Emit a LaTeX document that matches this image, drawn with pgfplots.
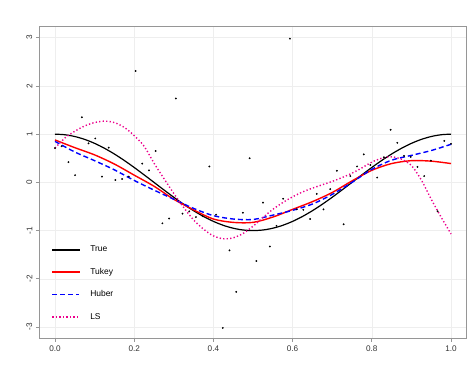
\documentclass[border=0pt]{standalone}
\usepackage{fontspec}
\setmainfont{Liberation Sans}
\usepackage{pgfplots}
\usepackage{pgfplotstable}
\pgfplotsset{compat=1.18}
\definecolor{framegray}{RGB}{150,150,150}
\definecolor{labgray}{RGB}{50,50,50}
\definecolor{gridgray}{RGB}{238,238,238}
\pgfplotstableread{
x y
0.0000 0.71
0.0169 0.75
0.0339 0.42
0.0508 0.15
0.0678 1.35
0.0847 0.81
0.1017 0.91
0.1186 0.12
0.1356 0.72
0.1525 0.05
0.1695 0.07
0.1864 0.12
0.2034 2.31
0.2203 0.39
0.2373 0.25
0.2542 0.65
0.2712 -0.85
0.2881 -0.75
0.3051 1.74
0.3220 -0.65
0.3390 -0.60
0.3559 -0.72
0.3729 -0.70
0.3898 0.33
0.4068 -0.67
0.4237 -3.02
0.4407 -1.41
0.4576 -2.27
0.4746 -0.63
0.4915 0.50
0.5085 -1.63
0.5254 -0.42
0.5424 -1.33
0.5593 -0.90
0.5763 -0.34
0.5932 2.98
0.6102 -0.56
0.6271 -0.57
0.6441 -0.76
0.6610 -0.24
0.6780 -0.56
0.6949 -0.14
0.7119 0.24
0.7288 -0.87
0.7458 0.13
0.7627 0.33
0.7797 0.58
0.7966 0.36
0.8136 0.10
0.8305 0.52
0.8475 1.09
0.8644 0.82
0.8814 0.55
0.8983 0.53
0.9153 0.32
0.9322 0.13
0.9492 0.45
0.9661 -0.60
0.9831 0.86
1.0000 0.80
}\pts
\pgfplotstableread{
x y
0.000 1.0000
0.025 0.9877
0.050 0.9511
0.075 0.8910
0.100 0.8090
0.125 0.7071
0.150 0.5878
0.175 0.4540
0.200 0.3090
0.225 0.1564
0.250 0.0000
0.275 -0.1564
0.300 -0.3090
0.325 -0.4540
0.350 -0.5878
0.375 -0.7071
0.400 -0.8090
0.425 -0.8910
0.450 -0.9511
0.475 -0.9877
0.500 -1.0000
0.525 -0.9877
0.550 -0.9511
0.575 -0.8910
0.600 -0.8090
0.625 -0.7071
0.650 -0.5878
0.675 -0.4540
0.700 -0.3090
0.725 -0.1564
0.750 0.0000
0.775 0.1564
0.800 0.3090
0.825 0.4540
0.850 0.5878
0.875 0.7071
0.900 0.8090
0.925 0.8910
0.950 0.9511
0.975 0.9877
1.000 1.0000
}\truec
\pgfplotstableread{
x y
0.00 0.88
0.05 0.72
0.10 0.57
0.15 0.38
0.20 0.15
0.25 -0.08
0.30 -0.35
0.35 -0.57
0.40 -0.76
0.45 -0.83
0.50 -0.83
0.55 -0.72
0.60 -0.56
0.65 -0.40
0.70 -0.21
0.75 0.03
0.80 0.25
0.85 0.39
0.90 0.45
0.95 0.44
1.00 0.39
}\tukey
\pgfplotstableread{
x y
0.00 0.85
0.05 0.63
0.10 0.45
0.15 0.26
0.20 0.04
0.25 -0.16
0.30 -0.35
0.35 -0.54
0.40 -0.69
0.45 -0.76
0.50 -0.77
0.55 -0.68
0.60 -0.58
0.65 -0.45
0.70 -0.25
0.75 0.00
0.80 0.27
0.85 0.46
0.90 0.56
0.95 0.66
1.00 0.79
}\huber
\pgfplotstableread{
x y
0.000 0.71
0.025 0.92
0.050 1.06
0.075 1.17
0.100 1.24
0.125 1.27
0.150 1.24
0.175 1.14
0.200 0.97
0.225 0.75
0.250 0.40
0.275 0.08
0.300 -0.23
0.325 -0.52
0.350 -0.78
0.375 -0.97
0.400 -1.11
0.425 -1.17
0.450 -1.15
0.475 -1.06
0.500 -0.91
0.525 -0.73
0.550 -0.56
0.575 -0.42
0.600 -0.30
0.625 -0.20
0.650 -0.12
0.675 -0.05
0.700 0.02
0.725 0.10
0.750 0.19
0.775 0.30
0.800 0.42
0.825 0.50
0.850 0.53
0.875 0.48
0.900 0.35
0.925 0.05
0.950 -0.35
0.975 -0.72
1.000 -1.07
}\ls
\begin{document}
\begin{tikzpicture}
\useasboundingbox (-39.3bp,-33.7bp) rectangle (434.7bp,338.3bp);
\begin{axis}[
  at={(0,0)}, anchor=south west,
  scale only axis, width=427.4bp, height=312.3bp,
  xmin=-0.0396, xmax=1.0396, ymin=-3.234, ymax=3.243,
  axis line style={draw=framegray, line width=0.9bp},
  tick align=outside, major tick length=3.5bp,
  tick style={draw=framegray, line width=0.7bp},
  xtick pos=lower, ytick pos=left,
  xtick={0,0.2,0.4,0.6,0.8,1.0},
  xticklabels={0.0,0.2,0.4,0.6,0.8,1.0},
  ytick={-3,-2,-1,0,1,2,3},
  yticklabels={-3,-2,-1,0,1,2,3},
  ticklabel style={font=\fontsize{8.2}{9}\selectfont, text=labgray},
  yticklabel style={rotate=90, anchor=south},
  grid=major, grid style={gridgray, line width=0.5bp},
  legend cell align=left,
  legend style={at={(axis description cs:0.021,0.3095)}, anchor=north west,
    draw=none, fill=none, font=\fontsize{8.5}{9}\selectfont,
    row sep=11.0bp, /tikz/every odd column/.append style={column sep=8bp}},
  legend image code/.code={\fill[#1, draw=none] (0bp,-0.75bp) rectangle (27bp,0.75bp);},
]
\addplot[only marks, mark=*, mark size=0.7bp, black, forget plot] table {\pts};
\addplot[black, line width=1.2bp, smooth, forget plot] table {\truec};
\addplot[red, line width=1.4bp, smooth, forget plot] table {\tukey};
\addplot[blue, line width=1.4bp, dash pattern=on 5bp off 3bp, smooth, forget plot] table {\huber};
\addplot[magenta, line width=1.4bp, dash pattern=on 1.3bp off 2.2bp, smooth, forget plot] table {\ls};
\addlegendimage{legend image code/.code={\fill[black] (0bp,-0.65bp) rectangle (27bp,0.65bp);}}
\addlegendentry{True}
\addlegendimage{legend image code/.code={\fill[red] (0bp,-0.75bp) rectangle (27bp,0.75bp);}}
\addlegendentry{Tukey}
\addlegendimage{legend image code/.code={\draw[blue, line width=1.8bp, dash pattern=on 5bp off 3bp] (0bp,0bp) -- (27bp,0bp);}}
\addlegendentry{Huber}
\addlegendimage{legend image code/.code={\draw[magenta, line width=1.6bp, dash pattern=on 1.3bp off 2.2bp] (0bp,0bp) -- (27bp,0bp);}}
\addlegendentry{LS}
\end{axis}
\end{tikzpicture}
\end{document}
